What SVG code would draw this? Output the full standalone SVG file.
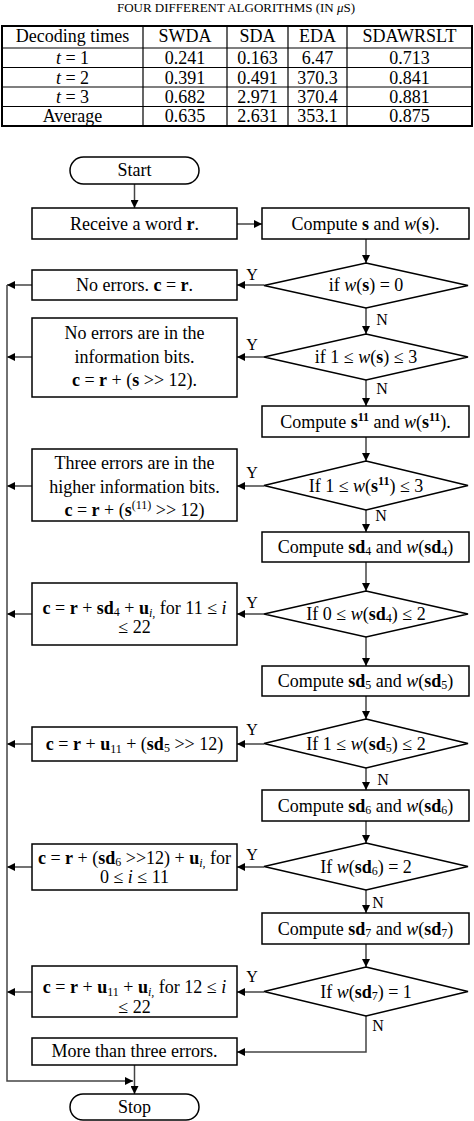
<svg xmlns="http://www.w3.org/2000/svg" width="474" height="1121" viewBox="0 0 474 1121">
<style>
text{font-family:"Liberation Serif","Times New Roman",serif;font-size:18px;fill:#000;text-anchor:middle}
.b{font-weight:bold}
.i{font-style:italic}
.sm{font-size:12px}
.lb{font-size:16px}
.box{fill:#fff;stroke:#000;stroke-width:1.5}
.conn{stroke:#444;stroke-width:1.5;fill:none}
.tl{stroke:#000;stroke-width:1.2;fill:none}
</style>
<defs>
<marker id="ah" viewBox="0 0 10 10" refX="10" refY="5" markerWidth="9" markerHeight="8" markerUnits="userSpaceOnUse" orient="auto"><path d="M0,0 L10,5 L0,10 z" fill="#000"/></marker>
</defs>
<rect width="474" height="1121" fill="#fff"/>

<g id="table">
<text x="236" y="12" style="font-size:13px">FOUR DIFFERENT ALGORITHMS (IN <tspan class="i">μ</tspan>S)</text>
<rect x="2" y="26" width="470" height="100" fill="none" stroke="#000" stroke-width="2"/>
<path class="tl" d="M2,48H472M2,67.5H472M2,87H472M2,106.5H472M143,26V126M227,26V126M288,26V126M347,26V126"/>
<text x="72.5" y="42">Decoding times</text>
<text x="185" y="42">SWDA</text>
<text x="257.5" y="42">SDA</text>
<text x="317.5" y="42">EDA</text>
<text x="409.5" y="42">SDAWRSLT</text>
<text x="72.5" y="64"><tspan class="i">t</tspan> = 1</text>
<text x="185" y="64">0.241</text>
<text x="257.5" y="64">0.163</text>
<text x="317.5" y="64">6.47</text>
<text x="409.5" y="64">0.713</text>
<text x="72.5" y="84"><tspan class="i">t</tspan> = 2</text>
<text x="185" y="84">0.391</text>
<text x="257.5" y="84">0.491</text>
<text x="317.5" y="84">370.3</text>
<text x="409.5" y="84">0.841</text>
<text x="72.5" y="103"><tspan class="i">t</tspan> = 3</text>
<text x="185" y="103">0.682</text>
<text x="257.5" y="103">2.971</text>
<text x="317.5" y="103">370.4</text>
<text x="409.5" y="103">0.881</text>
<text x="72.5" y="122">Average</text>
<text x="185" y="122">0.635</text>
<text x="257.5" y="122">2.631</text>
<text x="317.5" y="122">353.1</text>
<text x="409.5" y="122">0.875</text>
</g>

<g id="connectors">
<path class="conn" marker-end="url(#ah)" d="M134.5,184V208"/>
<path class="conn" marker-end="url(#ah)" d="M237,224H262"/>
<path class="conn" marker-end="url(#ah)" d="M366,239V263"/>
<path class="conn" marker-end="url(#ah)" d="M264,285H237"/>
<path class="conn" marker-end="url(#ah)" d="M366,308V334"/>
<path class="conn" marker-end="url(#ah)" d="M264,357H237"/>
<path class="conn" marker-end="url(#ah)" d="M366,380V406"/>
<path class="conn" marker-end="url(#ah)" d="M366,437V461"/>
<path class="conn" marker-end="url(#ah)" d="M264,486H237"/>
<path class="conn" marker-end="url(#ah)" d="M366,510V532"/>
<path class="conn" marker-end="url(#ah)" d="M366,562V591"/>
<path class="conn" marker-end="url(#ah)" d="M264,614H237"/>
<path class="conn" marker-end="url(#ah)" d="M366,637V666"/>
<path class="conn" marker-end="url(#ah)" d="M366,696V719"/>
<path class="conn" marker-end="url(#ah)" d="M264,744H237"/>
<path class="conn" marker-end="url(#ah)" d="M366,768V790"/>
<path class="conn" marker-end="url(#ah)" d="M366,821V843"/>
<path class="conn" marker-end="url(#ah)" d="M264,867H237"/>
<path class="conn" marker-end="url(#ah)" d="M366,890V913"/>
<path class="conn" marker-end="url(#ah)" d="M366,944V967"/>
<path class="conn" marker-end="url(#ah)" d="M264,992H237"/>
<path class="conn" marker-end="url(#ah)" d="M366,1016V1052H237"/>
<path class="conn" marker-end="url(#ah)" d="M134.5,1064V1094"/>
<path class="conn" marker-end="url(#ah)" d="M32,285H7"/>
<path class="conn" marker-end="url(#ah)" d="M32,357H7"/>
<path class="conn" marker-end="url(#ah)" d="M32,486H7"/>
<path class="conn" marker-end="url(#ah)" d="M32,614H7"/>
<path class="conn" marker-end="url(#ah)" d="M32,744H7"/>
<path class="conn" marker-end="url(#ah)" d="M32,867H7"/>
<path class="conn" marker-end="url(#ah)" d="M32,992H7"/>
<path class="conn" marker-end="url(#ah)" d="M7,285V1081H133"/>
<text class="lb" x="252" y="280">Y</text>
<text class="lb" x="252" y="350">Y</text>
<text class="lb" x="252" y="478">Y</text>
<text class="lb" x="252" y="608">Y</text>
<text class="lb" x="252" y="735">Y</text>
<text class="lb" x="252" y="860">Y</text>
<text class="lb" x="252" y="982">Y</text>
<text class="lb" x="382" y="325">N</text>
<text class="lb" x="382" y="394">N</text>
<text class="lb" x="381" y="521">N</text>
<text class="lb" x="383" y="785">N</text>
<text class="lb" x="378" y="908">N</text>
<text class="lb" x="378" y="1031">N</text>
</g>

<g id="start"><rect class="box" x="70" y="157" width="129" height="27" rx="13.5"/><text x="134.5" y="176">Start</text></g>
<g id="receive"><rect class="box" x="32" y="208" width="205" height="31"/><text x="134.5" y="230">Receive a word <tspan class="b">r</tspan>.</text></g>
<g id="compute-s"><rect class="box" x="262" y="208" width="207" height="31"/><text x="365.5" y="230">Compute <tspan class="b">s</tspan> and <tspan class="i">w</tspan>(<tspan class="b">s</tspan>).</text></g>
<g id="no-errors"><rect class="box" x="32" y="270" width="205" height="30"/><text x="134.5" y="291">No errors. <tspan class="b">c</tspan> = <tspan class="b">r</tspan>.</text></g>
<g id="d1"><path class="box" d="M366,263L468,285.5L366,308L264,285.5Z"/><text x="366" y="291">if <tspan class="i">w</tspan>(<tspan class="b">s</tspan>) = 0</text></g>
<g id="box2"><rect class="box" x="32" y="318" width="205" height="79"/><text x="134.5" y="339">No errors are in the</text><text x="134.5" y="363">information bits.</text><text x="134.5" y="386"><tspan class="b">c</tspan> = <tspan class="b">r</tspan> + (<tspan class="b">s</tspan> &gt;&gt; 12).</text></g>
<g id="d2"><path class="box" d="M366,334L468,357L366,380L264,357Z"/><text x="366" y="363">if 1 ≤ <tspan class="i">w</tspan>(<tspan class="b">s</tspan>) ≤ 3</text></g>
<g id="compute-s11"><rect class="box" x="262" y="406" width="207" height="31"/><text x="365.5" y="428">Compute <tspan class="b">s</tspan><tspan class="sm b" baseline-shift="7">11</tspan> and <tspan class="i">w</tspan>(<tspan class="b">s</tspan><tspan class="sm b" baseline-shift="7">11</tspan>).</text></g>
<g id="box3"><rect class="box" x="32" y="449" width="205" height="72"/><text x="134.5" y="469">Three errors are in the</text><text x="134.5" y="493">higher information bits.</text><text x="134.5" y="516"><tspan class="b">c</tspan> = <tspan class="b">r</tspan> + (<tspan class="b">s</tspan><tspan class="sm" baseline-shift="7">(11)</tspan> &gt;&gt; 12)</text></g>
<g id="d3"><path class="box" d="M366,461L468,485.5L366,510L264,485.5Z"/><text x="366" y="492">If 1 ≤ <tspan class="i">w</tspan>(<tspan class="b">s</tspan><tspan class="sm b" baseline-shift="7">11</tspan>) ≤ 3</text></g>
<g id="compute-sd4"><rect class="box" x="262" y="532" width="207" height="30"/><text x="365.5" y="553">Compute <tspan class="b">sd</tspan><tspan class="sm" baseline-shift="-2">4</tspan> and <tspan class="i">w</tspan>(<tspan class="b">sd</tspan><tspan class="sm" baseline-shift="-2">4</tspan>)</text></g>
<g id="box4"><rect class="box" x="32" y="583" width="205" height="62"/><text x="134.5" y="614"><tspan class="b">c</tspan> = <tspan class="b">r</tspan> + <tspan class="b">sd</tspan><tspan class="sm" baseline-shift="-2">4</tspan> + <tspan class="b">u</tspan><tspan class="sm i" baseline-shift="-3">i,</tspan> for 11 ≤ <tspan class="i">i</tspan></text><text x="134.5" y="633">≤ 22</text></g>
<g id="d4"><path class="box" d="M366,591L468,614L366,637L264,614Z"/><text x="366" y="620">If 0 ≤ <tspan class="i">w</tspan>(<tspan class="b">sd</tspan><tspan class="sm" baseline-shift="-2">4</tspan>) ≤ 2</text></g>
<g id="compute-sd5"><rect class="box" x="262" y="666" width="207" height="30"/><text x="365.5" y="687">Compute <tspan class="b">sd</tspan><tspan class="sm" baseline-shift="-2">5</tspan> and <tspan class="i">w</tspan>(<tspan class="b">sd</tspan><tspan class="sm" baseline-shift="-2">5</tspan>)</text></g>
<g id="box5"><rect class="box" x="32" y="727" width="205" height="34"/><text x="134.5" y="750"><tspan class="b">c</tspan> = <tspan class="b">r</tspan> + <tspan class="b">u</tspan><tspan class="sm" baseline-shift="-3">11</tspan> + (<tspan class="b">sd</tspan><tspan class="sm" baseline-shift="-2">5</tspan> &gt;&gt; 12)</text></g>
<g id="d5"><path class="box" d="M366,719L468,743.5L366,768L264,743.5Z"/><text x="366" y="750">If 1 ≤ <tspan class="i">w</tspan>(<tspan class="b">sd</tspan><tspan class="sm" baseline-shift="-2">5</tspan>) ≤ 2</text></g>
<g id="compute-sd6"><rect class="box" x="262" y="790" width="207" height="31"/><text x="365.5" y="812">Compute <tspan class="b">sd</tspan><tspan class="sm" baseline-shift="-2">6</tspan> and <tspan class="i">w</tspan>(<tspan class="b">sd</tspan><tspan class="sm" baseline-shift="-2">6</tspan>)</text></g>
<g id="box6"><rect class="box" x="32" y="844" width="205" height="46"/><text x="134.5" y="864"><tspan class="b">c</tspan> = <tspan class="b">r</tspan> + (<tspan class="b">sd</tspan><tspan class="sm" baseline-shift="-2">6</tspan> &gt;&gt;12) + <tspan class="b">u</tspan><tspan class="sm i" baseline-shift="-3">i,</tspan> for</text><text x="134.5" y="883">0 ≤ <tspan class="i">i</tspan> ≤ 11</text></g>
<g id="d6"><path class="box" d="M366,843L468,866.5L366,890L264,866.5Z"/><text x="366" y="873">If <tspan class="i">w</tspan>(<tspan class="b">sd</tspan><tspan class="sm" baseline-shift="-2">6</tspan>) = 2</text></g>
<g id="compute-sd7"><rect class="box" x="262" y="913" width="207" height="31"/><text x="365.5" y="935">Compute <tspan class="b">sd</tspan><tspan class="sm" baseline-shift="-2">7</tspan> and <tspan class="i">w</tspan>(<tspan class="b">sd</tspan><tspan class="sm" baseline-shift="-2">7</tspan>)</text></g>
<g id="box7"><rect class="box" x="32" y="966" width="205" height="51"/><text x="134.5" y="993"><tspan class="b">c</tspan> = <tspan class="b">r</tspan> + <tspan class="b">u</tspan><tspan class="sm" baseline-shift="-3">11</tspan> + <tspan class="b">u</tspan><tspan class="sm i" baseline-shift="-3">i,</tspan>  for 12 ≤ <tspan class="i">i</tspan></text><text x="134.5" y="1013">≤ 22</text></g>
<g id="d7"><path class="box" d="M366,967L468,991.5L366,1016L264,991.5Z"/><text x="366" y="998">If <tspan class="i">w</tspan>(<tspan class="b">sd</tspan><tspan class="sm" baseline-shift="-2">7</tspan>) = 1</text></g>
<g id="more-errors"><rect class="box" x="32" y="1038" width="205" height="27"/><text x="134.5" y="1057">More than three errors.</text></g>
<g id="stop"><rect class="box" x="70" y="1094" width="129" height="26" rx="13"/><text x="134.5" y="1113">Stop</text></g>
</svg>
